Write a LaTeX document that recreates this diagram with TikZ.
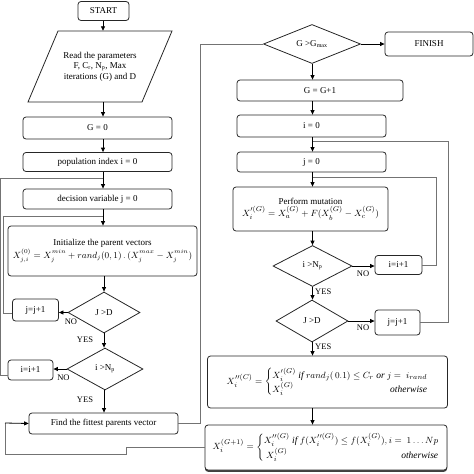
\documentclass[tikz,border=0pt]{standalone}
\usepackage{amsmath}
\usepackage{fontspec}
\setmainfont{Liberation Serif}
\usetikzlibrary{shapes.geometric,arrows.meta,calc,shadows}
\newcommand{\fsz}{\fontsize{9.5}{11.5}\selectfont}
\newcommand{\fsm}{\fontsize{8.6}{10}\selectfont}
\newcommand{\dn}[1]{\raisebox{-1.6pt}{$\scriptstyle #1$}}
\newcommand{\up}[1]{\raisebox{1.2pt}{$\scriptstyle #1$}}
\begin{document}
\begin{tikzpicture}[x=1pt,y=-1pt,font=\fontsize{9}{10.5}\selectfont,
  box/.style={draw=black!85, fill=white, line width=0.8pt, rounded corners=3pt, align=center, inner sep=1pt},
  dia/.style={draw=black!85, line width=0.8pt, diamond, inner sep=0pt, align=center},
  arr/.style={-{Triangle[length=4.5pt,width=4pt]}, line width=0.8pt, black},
  lp/.style={draw=black!55, line width=0.7pt},
  lab/.style={font=\fontsize{8.5}{9}\selectfont, inner sep=0pt}]
\useasboundingbox (0,0) rectangle (474,474);
\coordinate (L) at (103,0);
\coordinate (R) at (312.5,0);
% ---------- left column ----------
\node[box, minimum width=51pt, minimum height=19pt] (start) at (103.5,11) {START};
\draw[draw=black!85, line width=0.8pt] (58,31) -- (172,31) -- (142,102) -- (28,102) -- cycle;
\node[minimum width=114pt, minimum height=71pt, align=center, inner sep=0pt] (read) at (100,66.5)
  {Read the parameters\\F, C\textsubscript{r}, N\textsubscript{p}, Max\\iterations (G) and D};
\node[box, minimum width=149pt, minimum height=22pt] (g0) at (97.5,128) {G = 0};
\node[box, minimum width=149pt, minimum height=19pt] (popi) at (97.5,162) {population index i = 0};
\node[box, minimum width=149pt, minimum height=20pt] (decj) at (97.5,199) {decision variable j = 0};
\node[box, minimum width=189pt, minimum height=50pt] (init) at (102.5,251)
  {Initialize the parent vectors\\[1pt]
   {\fsm$X^{\up{(0)}}_{\dn{j,i}} = X^{\up{min}}_{\dn{j}} + rand_j(0,1)\,.\,(X^{\up{max}}_{\dn{j}} - X^{\up{min}}_{\dn{j}})$}};
\node[dia, minimum width=72pt, minimum height=41pt] (jd1) at (104,312.5) {J >D};
\node[box, minimum width=46pt, minimum height=22pt] (jinc1) at (35.5,310) {j=j+1};
\node[dia, minimum width=76pt, minimum height=42pt] (in1) at (105,369) {i >N\textsubscript{p}};
\node[box, minimum width=45pt, minimum height=20pt] (iinc1) at (30.5,370) {i=i+1};
\node[box, minimum width=149pt, minimum height=21pt] (find) at (103.5,423.5) {Find the fittest parents vector};
% ---------- right column ----------
\node[dia, minimum width=97pt, minimum height=39pt] (gmax) at (312,44) {G >G\textsubscript{max}};
\node[box, minimum width=88pt, minimum height=24pt] (finish) at (429,44) {FINISH};
\node[box, minimum width=166pt, minimum height=21pt] (ginc) at (320,90.5) {G = G+1};
\node[box, minimum width=149pt, minimum height=22pt] (i0) at (311.5,126) {i = 0};
\node[box, minimum width=149pt, minimum height=20pt] (j0) at (311.5,162) {j = 0};
\node[box, minimum width=155pt, minimum height=44pt] (mut) at (310.5,209)
  {Perform mutation\\[2pt]
   {\fsz$X_i^{\prime(G)} = X_a^{(G)} + F(X_b^{(G)} - X_c^{(G)})$}};
\node[dia, minimum width=79pt, minimum height=41pt] (in2) at (312.5,266) {i >N\textsubscript{p}};
\node[box, minimum width=47pt, minimum height=19pt] (iinc2) at (398.5,265) {i=i+1};
\node[dia, minimum width=72pt, minimum height=42pt] (jd2) at (312,321) {J >D};
\node[box, minimum width=45pt, minimum height=25pt] (jinc2) at (397.5,322.5) {j=j+1};
\node[box, minimum width=240pt, minimum height=52pt, font=\fsz] (xpp) at (327.5,382)
  {$X_i^{\prime\prime(C)} = \left\{\begin{array}{@{}l@{}}
     X_i^{\prime(G)}\ \mathit{if}\ rand_j(\,0.1) \le C_r\ \mathit{or}\ j =\ i_{rand}\\[1pt]
     X_i^{(G)} \hfill \mathit{otherwise}\end{array}\right.$};
\node[box, minimum width=242pt, minimum height=45pt, font=\fsz,
      drop shadow={shadow xshift=0pt, shadow yshift=-1.8pt, fill=black!75, opacity=1}] (xnew) at (326,447.5)
  {$X_i^{(G+1)} = \left\{\begin{array}{@{}l@{}}
     X_i^{\prime\prime(G)}\ \mathit{if}\ f(X_i^{\prime\prime(G)}) \le f(X_i^{(G)}), i =\ 1 \ldots Np\\[1pt]
     \ X_i^{(G)} \hfill \mathit{otherwise}\end{array}\right.$};
% ---------- loop coordinates ----------
\coordinate (eI) at (103,178);
\coordinate (eJ) at (103,216);
\coordinate (eI2) at (312.5,177);
\coordinate (eJ2) at (312.5,141);
% ---------- left arrows ----------
\draw[arr] (start.south -| L) -- (read.north -| L);
\draw[arr] (read.south -| L) -- (g0.north -| L);
\draw[arr] (g0.south -| L) -- (popi.north -| L);
\draw[arr] (popi.south -| L) -- (decj.north -| L);
\draw[arr] (decj.south -| L) -- (init.north -| L);
\draw[arr] (init.south -| jd1) -- (jd1.north);
\draw[arr] (jd1.south) -- (in1.north -| jd1);
\draw[arr] (in1.south -| jd1) -- (find.north -| jd1);
\draw[arr] (jd1.west) -- (jd1.west -| jinc1.east);
\draw[arr] (in1.west) -- (in1.west -| iinc1.east);
\node[lab] at (71,322) {NO};
\node[lab] at (63.5,378) {NO};
\node[lab] at (85,340) {YES};
\node[lab] at (85,400) {YES};
\draw[lp] ([yshift=-3pt]jinc1.west) -- ++(-8.5,0) |- (eJ);
\draw[lp] ([yshift=-5pt]iinc1.west) -- ++(-7,0) |- (eI);
\draw[lp] (find.east) -- ++(22,0) |- (gmax.west);
\draw[lp] (xnew.west) -- ++(-78,0) -- ++(0,7) -| (5,423);
\draw[arr] (5,423) -- (find.west);
% ---------- right arrows ----------
\draw[arr] (gmax.east) -- (finish.west);
\draw[arr] (gmax.south -| R) -- (ginc.north -| R);
\draw[arr] (ginc.south -| R) -- (i0.north -| R);
\draw[arr] (i0.south -| R) -- (j0.north -| R);
\draw[arr] (j0.south -| R) -- (mut.north -| R);
\draw[arr] (mut.south -| R) -- (in2.north);
\draw[arr] (in2.south) -- (jd2.north -| R);
\draw[arr] (jd2.south -| R) -- (xpp.north -| R);
\draw[arr] (xpp.south -| R) -- (xnew.north -| R);
\draw[arr] (in2.east) -- (in2.east -| iinc2.west);
\draw[arr] (jd2.east) -- (jd2.east -| jinc2.west);
\node[lab] at (363,274) {NO};
\node[lab] at (363,328) {NO};
\node[lab, anchor=west] at (315,292) {YES};
\node[lab, anchor=west] at (315,347) {YES};
\draw[lp] (iinc2.east) -- (436,265) |- (eI2);
\draw[lp] (jinc2.east) -- (448,322.5) |- (eJ2);
\end{tikzpicture}
\end{document}
